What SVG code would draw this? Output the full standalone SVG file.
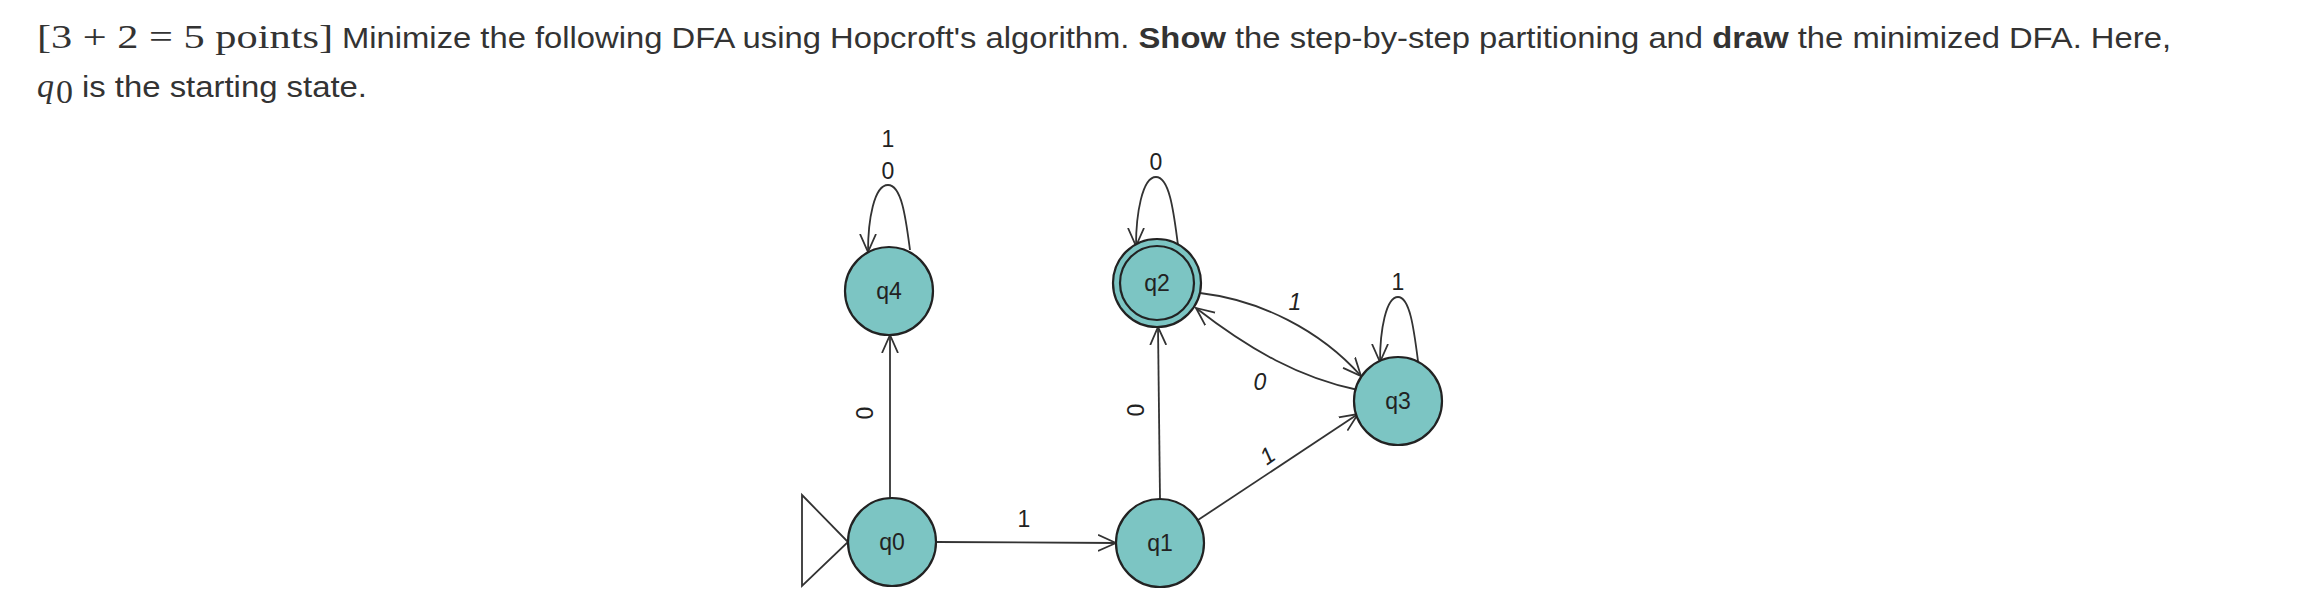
<svg xmlns="http://www.w3.org/2000/svg" width="2320" height="606" viewBox="0 0 2320 606">
<defs>
<style>
.t{font-family:"Liberation Sans",Arial,sans-serif;font-size:29px;fill:#333}
.m{font-family:"Liberation Serif","DejaVu Serif",serif;font-size:34px;fill:#333}
.n{fill:#7cc5c3;stroke:#222;stroke-width:2.2}
.e{fill:none;stroke:#333;stroke-width:1.8}
.l{font-family:"Liberation Sans",Arial,sans-serif;font-size:23px;fill:#222;text-anchor:middle}
</style>
<marker id="a" viewBox="0 0 20 20" refX="18" refY="10" markerWidth="20" markerHeight="20" markerUnits="userSpaceOnUse" orient="auto">
<path d="M0,2 L18,10 L0,18" fill="none" stroke="#333" stroke-width="1.8"/>
</marker>
</defs>
<rect width="2320" height="606" fill="#fff"/>
<text class="m" x="37" y="48" textLength="296" lengthAdjust="spacingAndGlyphs">[3 + 2 = 5 points]</text>
<text class="t" x="342" y="48" textLength="1829" lengthAdjust="spacingAndGlyphs">Minimize the following DFA using Hopcroft's algorithm. <tspan font-weight="bold">Show</tspan> the step-by-step partitioning and <tspan font-weight="bold">draw</tspan> the minimized DFA. Here,</text>
<text class="m" x="37" y="97" font-style="italic">q</text><text class="m" x="56" y="103" font-size="22">0</text>
<text class="t" x="82" y="97" textLength="285" lengthAdjust="spacingAndGlyphs">is the starting state.</text>
<g id="connectors">
<polygon points="802,495 848,542 802,586" fill="#fff" stroke="#333" stroke-width="1.8"/>
<path class="e" d="M910,250 C906,220 902,185 888,185 C874,185 868,220 868,252" marker-end="url(#a)"/>
<path class="e" d="M1178,245 C1174,215 1170,177 1156,177 C1142,177 1136,215 1136,246" marker-end="url(#a)"/>
<path class="e" d="M1418,361 C1414,330 1410,297 1398,297 C1386,297 1380,330 1380,362" marker-end="url(#a)"/>
<path class="e" d="M890,498 L890,335" marker-end="url(#a)"/>
<path class="e" d="M936,542 L1116,543" marker-end="url(#a)"/>
<path class="e" d="M1160,499 L1158,327" marker-end="url(#a)"/>
<path class="e" d="M1198,520 L1358,414" marker-end="url(#a)"/>
<path class="e" d="M1200,293 C1260,300 1320,330 1361,376" marker-end="url(#a)"/>
<path class="e" d="M1358,390 C1300,378 1250,350 1196,308" marker-end="url(#a)"/>
<text class="l" x="888" y="147">1</text>
<text class="l" x="888" y="179">0</text>
<text class="l" x="1156" y="170">0</text>
<text class="l" x="1398" y="290">1</text>
<text class="l" transform="translate(873,413) rotate(-90)">0</text>
<text class="l" x="1024" y="527">1</text>
<text class="l" transform="translate(1144,410) rotate(-90)">0</text>
<text class="l" transform="translate(1272,462) rotate(-35)" font-style="italic">1</text>
<text class="l" x="1295" y="310" font-style="italic">1</text>
<text class="l" x="1260" y="390" font-style="italic">0</text>
</g>
<g id="q4"><circle class="n" cx="889" cy="291" r="44"/><text class="l" x="889" y="299">q4</text></g>
<g id="q2"><circle class="n" cx="1157" cy="283" r="44"/><circle class="n" cx="1157" cy="283" r="37"/><text class="l" x="1157" y="291">q2</text></g>
<g id="q3"><circle class="n" cx="1398" cy="401" r="44"/><text class="l" x="1398" y="409">q3</text></g>
<g id="q0"><circle class="n" cx="892" cy="542" r="44"/><text class="l" x="892" y="550">q0</text></g>
<g id="q1"><circle class="n" cx="1160" cy="543" r="44"/><text class="l" x="1160" y="551">q1</text></g>
</svg>
